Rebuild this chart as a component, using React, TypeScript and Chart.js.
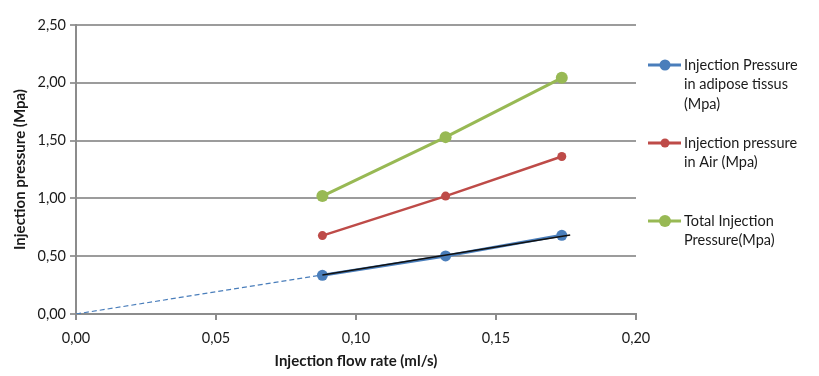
import { useEffect, useRef } from "react";
import { Chart, registerables } from "chart.js";

Chart.register(...registerables);

const flowRate = [0.088, 0.132, 0.1735];
const adiposePressure = [0.335, 0.502, 0.681];
const airPressure = [0.678, 1.02, 1.362];
const totalPressure = [1.02, 1.53, 2.043];

const trendDashedX = [0, 0.088];
const trendDashedY = [0, 0.338];
const trendSolidX = [0.088, 0.1765];
const trendSolidY = [0.338, 0.683];

const seriesNames = [
  ["Injection Pressure", "in adipose tissus", "(Mpa)"],
  ["Injection pressure", "in Air (Mpa)"],
  ["Total Injection", "Pressure(Mpa)"],
];
const seriesColors = ["#4a7ebb", "#be4b48", "#98b954"];
const markerSizes = [5.5, 4.5, 6];

const xTitle = "Injection flow rate (ml/s)";
const yTitle = "Injection pressure (Mpa)";

const FONT = "Lato, 'Open Sans', sans-serif";

const pts = (xs: number[], ys: number[]) => xs.map((x, i) => ({ x, y: ys[i] }));
const fmt = (v: number) => v.toFixed(2).replace(".", ",");

const legendPlugin = {
  id: "sideLegend",
  afterDraw(chart: any) {
    const ctx = chart.ctx;
    const startY = [65, 143, 221];
    ctx.save();
    ctx.font = `14.5px ${FONT}`;
    ctx.textBaseline = "middle";
    seriesNames.forEach((lines, i) => {
      const y = startY[i];
      ctx.strokeStyle = seriesColors[i];
      ctx.lineWidth = 3;
      ctx.beginPath();
      ctx.moveTo(648, y);
      ctx.lineTo(681, y);
      ctx.stroke();
      ctx.fillStyle = seriesColors[i];
      ctx.beginPath();
      ctx.arc(665, y, markerSizes[i], 0, Math.PI * 2);
      ctx.fill();
      ctx.fillStyle = "#1a1a1a";
      lines.forEach((t, j) => ctx.fillText(t, 684, y + j * 19.5));
    });
    ctx.restore();
  },
};

export default function App() {
  const ref = useRef<HTMLCanvasElement | null>(null);
  useEffect(() => {
    document.body.style.margin = "0";
    const canvas = ref.current!;
    const chart = new Chart(canvas, {
      type: "scatter",
      data: {
        datasets: [
          {
            label: "trend",
            data: pts(trendSolidX, trendSolidY),
            showLine: true,
            borderColor: "#111111",
            borderWidth: 1.5,
            pointRadius: 0,
          },
          {
            label: seriesNames[0].join(" "),
            data: pts(flowRate, adiposePressure),
            showLine: true,
            borderColor: seriesColors[0],
            backgroundColor: seriesColors[0],
            borderWidth: 3,
            pointRadius: markerSizes[0],
            pointBorderWidth: 0,
          },
          {
            label: "trend back",
            data: pts(trendDashedX, trendDashedY),
            showLine: true,
            borderColor: seriesColors[0],
            borderWidth: 1.2,
            borderDash: [5, 3],
            pointRadius: 0,
          },
          {
            label: seriesNames[1].join(" "),
            data: pts(flowRate, airPressure),
            showLine: true,
            borderColor: seriesColors[1],
            backgroundColor: seriesColors[1],
            borderWidth: 2.5,
            pointRadius: markerSizes[1],
            pointBorderWidth: 0,
          },
          {
            label: seriesNames[2].join(" "),
            data: pts(flowRate, totalPressure),
            showLine: true,
            borderColor: seriesColors[2],
            backgroundColor: seriesColors[2],
            borderWidth: 3,
            pointRadius: markerSizes[2],
            pointBorderWidth: 0,
          },
        ],
      },
      options: {
        animation: false,
        responsive: false,
        maintainAspectRatio: false,
        layout: { padding: { top: 25, right: 183, left: 0, bottom: 0 } },
        plugins: { legend: { display: false }, tooltip: { enabled: false } },
        scales: {
          x: {
            type: "linear",
            min: 0,
            max: 0.2,
            ticks: {
              stepSize: 0.05,
              callback: (v: any) => fmt(Number(v)),
              font: { family: FONT, size: 14.5 },
              color: "#1a1a1a",
              padding: 10,
            },
            grid: {
              drawOnChartArea: false,
              drawTicks: true,
              tickLength: 6,
              color: "#8c8c8c",
              lineWidth: 2,
            },
            border: { color: "#8c8c8c", width: 2 },
            title: {
              display: true,
              text: xTitle,
              font: { family: FONT, size: 15, weight: "bold" },
              color: "#1a1a1a",
              padding: { top: 4, bottom: 6 },
            },
            afterFit: (s: any) => {
              s.height = 62;
            },
          },
          y: {
            type: "linear",
            min: 0,
            max: 2.5,
            ticks: {
              stepSize: 0.5,
              callback: (v: any) => fmt(Number(v)),
              font: { family: FONT, size: 14.5 },
              color: "#1a1a1a",
              padding: 4,
            },
            grid: {
              drawTicks: true,
              tickLength: 6,
              color: "#9c9c9c",
              lineWidth: 2,
            },
            border: { color: "#8c8c8c", width: 2 },
            title: {
              display: true,
              text: yTitle,
              font: { family: FONT, size: 15, weight: "bold" },
              color: "#1a1a1a",
              padding: { top: 11, bottom: 4 },
            },
            afterFit: (s: any) => {
              s.width = 76;
            },
          },
        },
      },
      plugins: [legendPlugin],
    } as any);
    return () => chart.destroy();
  }, []);
  return <canvas ref={ref} width={819} height={376} style={{ display: "block" }} />;
}
